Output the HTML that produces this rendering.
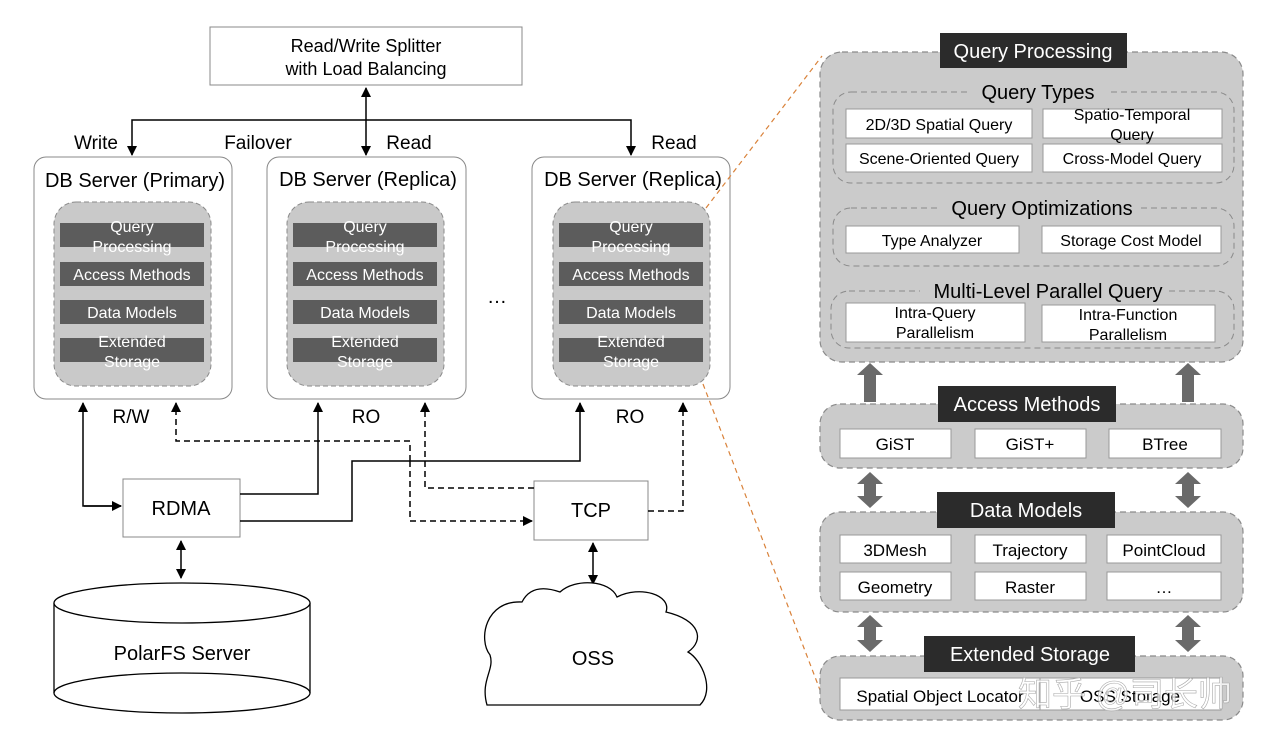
<!DOCTYPE html>
<html><head><meta charset="utf-8"><style>
html,body{margin:0;padding:0;background:#fff}
svg{display:block}
text{font-family:"Liberation Sans","Noto Sans CJK SC",sans-serif}
</style></head><body>
<svg width="1280" height="748" viewBox="0 0 1280 748" xmlns="http://www.w3.org/2000/svg">
<defs>
<marker id="a" markerWidth="10" markerHeight="10" refX="9" refY="5" orient="auto-start-reverse" markerUnits="userSpaceOnUse"><path d="M0,0 L10,5 L0,10 z" fill="#000"/></marker>
<g id="stack">
<rect x="20" y="45" width="157" height="184" rx="22" fill="#c9c9c9" stroke="#8a8a8a" stroke-dasharray="5,3"/>
<rect x="26" y="66" width="144" height="24" fill="#5c5c5c"/>
<rect x="26" y="105" width="144" height="24" fill="#5c5c5c"/>
<rect x="26" y="143" width="144" height="24" fill="#5c5c5c"/>
<rect x="26" y="181" width="144" height="24" fill="#5c5c5c"/>
<g fill="#fff" font-size="16" text-anchor="middle">
<text x="98" y="75">Query</text><text x="98" y="95">Processing</text>
<text x="98" y="123">Access Methods</text>
<text x="98" y="161">Data Models</text>
<text x="98" y="190">Extended</text><text x="98" y="210">Storage</text>
</g>
</g>
</defs>

<!-- splitter -->
<rect x="210" y="27" width="312" height="58" fill="#fff" stroke="#888"/>
<text x="366" y="52" font-size="18" text-anchor="middle">Read/Write Splitter</text>
<text x="366" y="75" font-size="18" text-anchor="middle">with Load Balancing</text>
<g stroke="#000" stroke-width="1.5" fill="none">
<line x1="366" y1="155" x2="366" y2="88" marker-end="url(#a)" marker-start="url(#a)"/>
<polyline points="132,155 132,120 631,120 631,155" />
</g>
<path d="M127,146 L137,146 L132,156 z M626,146 L636,146 L631,156 z" fill="#000"/>
<g font-size="19" text-anchor="middle">
<text x="96" y="149">Write</text><text x="258" y="149">Failover</text>
<text x="409" y="149">Read</text><text x="674" y="149">Read</text>
</g>

<!-- servers -->
<g fill="#fff" stroke="#888">
<rect x="34" y="157" width="198" height="242" rx="12"/>
<rect x="267" y="157" width="199" height="242" rx="12"/>
<rect x="532" y="157" width="198" height="242" rx="12"/>
</g>
<g font-size="20" text-anchor="middle">
<text x="135" y="187">DB Server (Primary)</text>
<text x="368" y="186">DB Server (Replica)</text>
<text x="633" y="186">DB Server (Replica)</text>
</g>
<use href="#stack" x="34" y="157"/>
<use href="#stack" x="267" y="157"/>
<use href="#stack" x="533" y="157"/>
<text x="497" y="303" font-size="20" text-anchor="middle">…</text>

<!-- bottom labels -->
<g font-size="19" text-anchor="middle">
<text x="131" y="423">R/W</text><text x="366" y="423">RO</text><text x="630" y="423">RO</text>
</g>

<!-- RDMA / TCP -->
<rect x="123" y="479" width="117" height="58" fill="#fff" stroke="#888"/>
<text x="181" y="515" font-size="20" text-anchor="middle">RDMA</text>
<rect x="534" y="481" width="114" height="59" fill="#fff" stroke="#888"/>
<text x="591" y="517" font-size="20" text-anchor="middle">TCP</text>

<g stroke="#000" stroke-width="1.5" fill="none">
<polyline points="121,506 83,506 83,403" marker-end="url(#a)"/>
<line x1="84" y1="506" x2="121" y2="506" marker-end="url(#a)"/>
<polyline points="240,494 318,494 318,403" marker-end="url(#a)"/>
<polyline points="240,521 352,521 352,461 580,461 580,403" marker-end="url(#a)"/>
<g stroke-dasharray="6,4">
<polyline points="410,461 410,441 176,441 176,403" marker-end="url(#a)"/>
<polyline points="410,461 410,521 532,521" marker-end="url(#a)"/>
<polyline points="534,488 425,488 425,403" marker-end="url(#a)"/>
<polyline points="648,511 683,511 683,403" marker-end="url(#a)"/>
</g>
<line x1="181" y1="541" x2="181" y2="578" marker-end="url(#a)" marker-start="url(#a)"/>
<line x1="593" y1="543" x2="593" y2="584" marker-end="url(#a)" marker-start="url(#a)"/>
</g>

<!-- cylinder -->
<g stroke="#000" stroke-width="1.3" fill="#fff">
<path d="M54,603 L54,693 A128,20 0 0 0 310,693 L310,603"/>
<ellipse cx="182" cy="603" rx="128" ry="20"/>
<path d="M54,693 A128,20 0 0 1 310,693" fill="none"/>
</g>
<text x="182" y="660" font-size="20" text-anchor="middle">PolarFS Server</text>

<!-- cloud -->
<path d="M487,705 C480,680 495,670 490,655 C478,640 485,600 522,602 C528,590 540,585 560,592 C575,578 610,580 617,597 C640,585 672,595 666,612 C700,620 705,640 688,652 C702,660 715,690 700,705 Z" fill="#fff" stroke="#000" stroke-width="1.3"/>
<text x="593" y="665" font-size="20" text-anchor="middle">OSS</text>

<!-- orange dashed -->
<g stroke="#d9823a" stroke-width="1.2" stroke-dasharray="5,4" fill="none">
<line x1="706" y1="208" x2="822" y2="56"/>
<line x1="703" y1="384" x2="820" y2="690"/>
</g>

<!-- right panel -->
<g fill="#cbcbcb" stroke="#8a8a8a" stroke-dasharray="6,4" stroke-width="1.2">
<rect x="820" y="52" width="423" height="310" rx="22"/>
<rect x="820" y="404" width="423" height="64" rx="20"/>
<rect x="820" y="512" width="423" height="100" rx="20"/>
<rect x="820" y="656" width="423" height="64" rx="20"/>
</g>
<g fill="none" stroke="#8a8a8a" stroke-dasharray="6,4">
<rect x="833" y="92" width="401" height="91" rx="18"/>
<rect x="833" y="208" width="401" height="58" rx="18"/>
<rect x="831" y="291" width="403" height="57" rx="18"/>
</g>
<g fill="#cbcbcb">
<rect x="970" y="80" width="138" height="22"/>
<rect x="938" y="196" width="200" height="22"/>
<rect x="920" y="279" width="248" height="22"/>
</g>
<g font-size="20" text-anchor="middle">
<text x="1038" y="99">Query Types</text>
<text x="1042" y="215">Query Optimizations</text>
<text x="1048" y="298">Multi-Level Parallel Query</text>
</g>
<!-- title boxes -->
<g fill="#2b2b2b">
<rect x="940" y="33" width="187" height="35"/>
<rect x="938" y="386" width="178" height="36"/>
<rect x="937" y="492" width="178" height="36"/>
<rect x="924" y="636" width="211" height="36"/>
</g>
<g fill="#fff" font-size="20" text-anchor="middle">
<text x="1033" y="58">Query Processing</text>
<text x="1027" y="411">Access Methods</text>
<text x="1026" y="517">Data Models</text>
<text x="1030" y="661">Extended Storage</text>
</g>
<!-- white boxes -->
<g fill="#fff" stroke="#999">
<rect x="846" y="109" width="186" height="29"/><rect x="1043" y="109" width="179" height="29"/>
<rect x="846" y="144" width="186" height="28"/><rect x="1043" y="144" width="179" height="28"/>
<rect x="846" y="226" width="173" height="27"/><rect x="1042" y="226" width="179" height="27"/>
<rect x="846" y="303" width="179" height="39"/><rect x="1042" y="305" width="173" height="37"/>
<rect x="840" y="429" width="111" height="29"/><rect x="975" y="429" width="111" height="29"/><rect x="1109" y="429" width="112" height="29"/>
<rect x="840" y="535" width="111" height="28"/><rect x="975" y="535" width="111" height="28"/><rect x="1107" y="535" width="114" height="28"/>
<rect x="840" y="572" width="111" height="28"/><rect x="975" y="572" width="111" height="28"/><rect x="1107" y="572" width="114" height="28"/>
<rect x="840" y="678" width="200" height="32"/><rect x="1040" y="678" width="181" height="32"/>
</g>
<g font-size="16" text-anchor="middle">
<text x="939" y="130">2D/3D Spatial Query</text>
<text x="1132" y="120">Spatio-Temporal</text><text x="1132" y="140">Query</text>
<text x="939" y="164">Scene-Oriented Query</text>
<text x="1132" y="164">Cross-Model Query</text>
<text x="932" y="246">Type Analyzer</text>
<text x="1131" y="246">Storage Cost Model</text>
<text x="935" y="318">Intra-Query</text><text x="935" y="338">Parallelism</text>
<text x="1128" y="320">Intra-Function</text><text x="1128" y="340">Parallelism</text>
<text x="895" y="450" font-size="17">GiST</text>
<text x="1030" y="450" font-size="17">GiST+</text>
<text x="1165" y="450" font-size="17">BTree</text>
<text x="895" y="556" font-size="17">3DMesh</text>
<text x="1030" y="556" font-size="17">Trajectory</text>
<text x="1164" y="556" font-size="17">PointCloud</text>
<text x="895" y="593" font-size="17">Geometry</text>
<text x="1030" y="593" font-size="17">Raster</text>
<text x="1164" y="593" font-size="17">…</text>
<text x="940" y="702" font-size="17">Spatial Object Locator</text>
<text x="1130" y="702" font-size="17">OSS Storage</text>
</g>
<text x="1125" y="706" font-size="34" text-anchor="middle" fill="#fff" fill-opacity="0.75" stroke="#aaa" stroke-width="0.6">知乎 @司长帅</text>

<!-- thick gray arrows -->
<g fill="#6a6a6a">
<path d="M857,375 L870,363 L883,375 L876,375 L876,402 L864,402 L864,375 z"/>
<path d="M1175,375 L1188,363 L1201,375 L1194,375 L1194,402 L1182,402 L1182,375 z"/>
<path d="M857,484 L870,472 L883,484 L876,484 L876,496 L883,496 L870,508 L857,496 L864,496 L864,484 z"/>
<path d="M1175,484 L1188,472 L1201,484 L1194,484 L1194,496 L1201,496 L1188,508 L1175,496 L1182,496 L1182,484 z"/>
<path d="M857,627 L870,615 L883,627 L876,627 L876,640 L883,640 L870,652 L857,640 L864,640 L864,627 z"/>
<path d="M1175,627 L1188,615 L1201,627 L1194,627 L1194,640 L1201,640 L1188,652 L1175,640 L1182,640 L1182,627 z"/>
</g>
</svg>
</body></html>
